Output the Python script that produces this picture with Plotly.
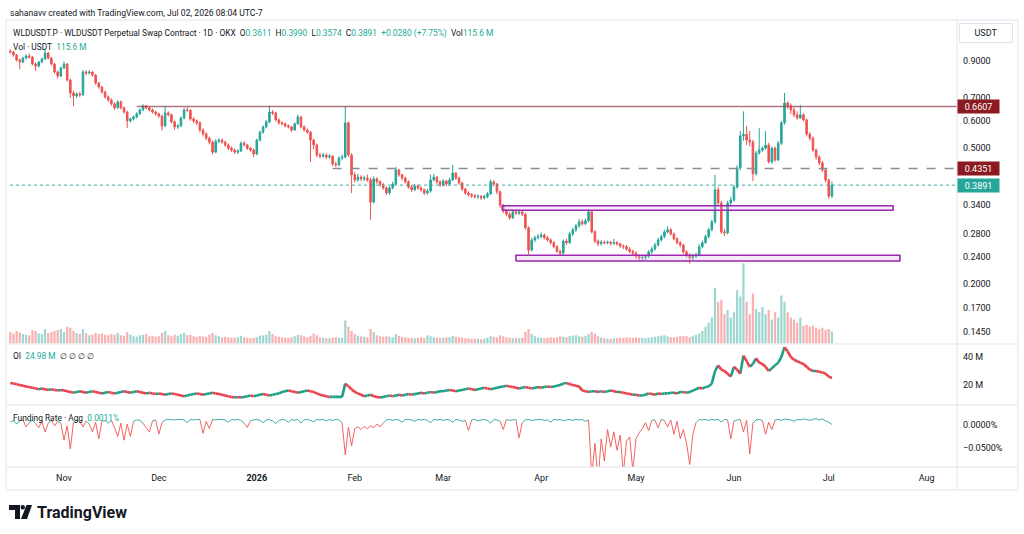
import math
import pandas as pd
import plotly.graph_objects as go

# ---------------- data ----------------
START_DATE = "2025-10-15"
FIRST_OPEN = 0.960

CLOSE = [
    0.954, 0.935, 0.904, 0.892, 0.916, 0.929, 0.922, 0.880, 0.868, 0.892,
    0.910, 0.948, 0.916, 0.880, 0.834, 0.812, 0.857, 0.880, 0.790, 0.724,
    0.710, 0.719, 0.715, 0.834, 0.828, 0.834, 0.817, 0.774, 0.754, 0.729,
    0.705, 0.691, 0.673, 0.655, 0.682, 0.655, 0.637, 0.600, 0.608, 0.616,
    0.629, 0.646, 0.664, 0.655, 0.646, 0.637, 0.629, 0.620, 0.580, 0.633,
    0.625, 0.596, 0.576, 0.580, 0.612, 0.646, 0.644, 0.608, 0.600, 0.592,
    0.564, 0.549, 0.534, 0.520, 0.486, 0.523, 0.527, 0.520, 0.510, 0.499,
    0.493, 0.486, 0.490, 0.516, 0.510, 0.499, 0.493, 0.480, 0.527, 0.556,
    0.576, 0.596, 0.637, 0.633, 0.604, 0.592, 0.588, 0.580, 0.576, 0.564,
    0.588, 0.616, 0.576, 0.564, 0.556, 0.527, 0.510, 0.477, 0.473, 0.477,
    0.470, 0.473, 0.449, 0.446, 0.467, 0.470, 0.592, 0.477, 0.417, 0.403,
    0.411, 0.406, 0.408, 0.403, 0.347, 0.406, 0.398, 0.390, 0.382, 0.369,
    0.382, 0.392, 0.431, 0.417, 0.408, 0.398, 0.384, 0.377, 0.387, 0.382,
    0.377, 0.369, 0.374, 0.403, 0.411, 0.398, 0.390, 0.400, 0.392, 0.403,
    0.422, 0.408, 0.395, 0.379, 0.369, 0.365, 0.362, 0.360, 0.361, 0.357,
    0.360, 0.367, 0.398, 0.392, 0.372, 0.340, 0.327, 0.320, 0.312, 0.325,
    0.322, 0.325, 0.320, 0.292, 0.251, 0.269, 0.273, 0.275, 0.278, 0.273,
    0.269, 0.264, 0.257, 0.249, 0.246, 0.267, 0.264, 0.280, 0.288, 0.296,
    0.304, 0.300, 0.306, 0.325, 0.284, 0.267, 0.262, 0.265, 0.264, 0.265,
    0.263, 0.264, 0.262, 0.258, 0.257, 0.253, 0.249, 0.246, 0.241, 0.238,
    0.239, 0.241, 0.248, 0.253, 0.260, 0.269, 0.275, 0.284, 0.288, 0.280,
    0.271, 0.264, 0.260, 0.248, 0.243, 0.238, 0.241, 0.243, 0.257, 0.264,
    0.275, 0.288, 0.304, 0.377, 0.345, 0.284, 0.282, 0.345, 0.352, 0.384,
    0.437, 0.542, 0.548, 0.527, 0.520, 0.420, 0.483, 0.493, 0.499, 0.510,
    0.455, 0.499, 0.461, 0.516, 0.592, 0.677, 0.664, 0.646, 0.625, 0.612,
    0.625, 0.604, 0.549, 0.534, 0.493, 0.470, 0.452, 0.431, 0.403, 0.3611,
    0.3891,
]

HIGH = [
    0.972, 0.962, 0.942, 0.915, 0.925, 0.940, 0.945, 0.930, 0.890, 0.900,
    0.920, 0.975, 0.955, 0.922, 0.888, 0.842, 0.866, 0.895, 0.885, 0.798,
    0.735, 0.728, 0.730, 0.845, 0.845, 0.845, 0.840, 0.822, 0.780, 0.760,
    0.736, 0.712, 0.698, 0.680, 0.690, 0.688, 0.662, 0.642, 0.614, 0.622,
    0.636, 0.652, 0.670, 0.668, 0.660, 0.652, 0.642, 0.634, 0.625, 0.662,
    0.640, 0.630, 0.602, 0.588, 0.618, 0.655, 0.658, 0.650, 0.615, 0.606,
    0.598, 0.570, 0.556, 0.540, 0.526, 0.530, 0.534, 0.532, 0.525, 0.515,
    0.505, 0.498, 0.496, 0.522, 0.524, 0.514, 0.504, 0.498, 0.532, 0.562,
    0.582, 0.604, 0.664, 0.645, 0.638, 0.610, 0.598, 0.594, 0.586, 0.580,
    0.594, 0.625, 0.620, 0.582, 0.570, 0.560, 0.532, 0.515, 0.484, 0.484,
    0.482, 0.480, 0.476, 0.455, 0.472, 0.478, 0.662, 0.598, 0.482, 0.425,
    0.420, 0.416, 0.415, 0.418, 0.410, 0.412, 0.410, 0.402, 0.395, 0.386,
    0.386, 0.398, 0.440, 0.434, 0.420, 0.412, 0.402, 0.390, 0.392, 0.391,
    0.386, 0.380, 0.380, 0.418, 0.420, 0.414, 0.402, 0.406, 0.404, 0.410,
    0.446, 0.425, 0.412, 0.398, 0.382, 0.373, 0.369, 0.367, 0.366, 0.364,
    0.365, 0.372, 0.404, 0.402, 0.395, 0.375, 0.343, 0.331, 0.324, 0.330,
    0.330, 0.330, 0.328, 0.323, 0.295, 0.273, 0.277, 0.280, 0.283, 0.281,
    0.276, 0.272, 0.267, 0.260, 0.252, 0.270, 0.271, 0.284, 0.292, 0.300,
    0.310, 0.309, 0.311, 0.330, 0.329, 0.287, 0.270, 0.269, 0.268, 0.268,
    0.267, 0.271, 0.267, 0.264, 0.261, 0.260, 0.256, 0.252, 0.249, 0.244,
    0.243, 0.244, 0.251, 0.257, 0.264, 0.273, 0.279, 0.288, 0.295, 0.291,
    0.283, 0.274, 0.267, 0.262, 0.251, 0.246, 0.245, 0.247, 0.261, 0.268,
    0.279, 0.292, 0.308, 0.417, 0.385, 0.350, 0.290, 0.350, 0.360, 0.390,
    0.445, 0.560, 0.640, 0.580, 0.560, 0.528, 0.490, 0.571, 0.505, 0.560,
    0.518, 0.505, 0.505, 0.524, 0.600, 0.724, 0.685, 0.675, 0.658, 0.640,
    0.668, 0.632, 0.610, 0.556, 0.540, 0.498, 0.476, 0.458, 0.436, 0.406,
    0.3990,
]

LOW = [
    0.945, 0.925, 0.895, 0.850, 0.885, 0.908, 0.912, 0.872, 0.840, 0.860,
    0.885, 0.905, 0.908, 0.872, 0.825, 0.798, 0.805, 0.850, 0.782, 0.700,
    0.662, 0.700, 0.705, 0.710, 0.815, 0.820, 0.808, 0.765, 0.745, 0.720,
    0.696, 0.682, 0.665, 0.646, 0.650, 0.648, 0.630, 0.572, 0.593, 0.602,
    0.610, 0.624, 0.640, 0.648, 0.640, 0.630, 0.622, 0.612, 0.562, 0.576,
    0.618, 0.590, 0.565, 0.568, 0.575, 0.606, 0.638, 0.600, 0.590, 0.584,
    0.556, 0.540, 0.526, 0.512, 0.478, 0.482, 0.516, 0.514, 0.503, 0.493,
    0.487, 0.480, 0.480, 0.486, 0.505, 0.493, 0.487, 0.470, 0.476, 0.522,
    0.550, 0.570, 0.590, 0.624, 0.598, 0.585, 0.582, 0.574, 0.570, 0.556,
    0.560, 0.584, 0.570, 0.558, 0.550, 0.455, 0.495, 0.470, 0.466, 0.468,
    0.464, 0.465, 0.442, 0.440, 0.442, 0.460, 0.466, 0.470, 0.369, 0.396,
    0.398, 0.400, 0.400, 0.398, 0.308, 0.344, 0.393, 0.385, 0.377, 0.364,
    0.365, 0.378, 0.390, 0.412, 0.402, 0.393, 0.380, 0.372, 0.374, 0.377,
    0.372, 0.364, 0.365, 0.370, 0.400, 0.393, 0.384, 0.386, 0.386, 0.388,
    0.400, 0.403, 0.390, 0.374, 0.364, 0.360, 0.357, 0.355, 0.354, 0.352,
    0.353, 0.356, 0.364, 0.386, 0.366, 0.334, 0.322, 0.316, 0.308, 0.310,
    0.318, 0.318, 0.316, 0.288, 0.244, 0.249, 0.265, 0.270, 0.272, 0.270,
    0.266, 0.261, 0.254, 0.246, 0.242, 0.244, 0.260, 0.262, 0.276, 0.284,
    0.292, 0.296, 0.297, 0.303, 0.281, 0.263, 0.258, 0.259, 0.261, 0.261,
    0.259, 0.260, 0.259, 0.255, 0.253, 0.250, 0.246, 0.243, 0.237, 0.234,
    0.234, 0.235, 0.238, 0.245, 0.250, 0.257, 0.266, 0.272, 0.281, 0.277,
    0.268, 0.261, 0.256, 0.245, 0.239, 0.229, 0.235, 0.238, 0.241, 0.254,
    0.262, 0.272, 0.285, 0.300, 0.340, 0.280, 0.276, 0.279, 0.340, 0.348,
    0.380, 0.430, 0.525, 0.510, 0.505, 0.400, 0.415, 0.478, 0.487, 0.495,
    0.450, 0.450, 0.456, 0.458, 0.510, 0.585, 0.650, 0.628, 0.615, 0.605,
    0.608, 0.598, 0.540, 0.525, 0.487, 0.462, 0.445, 0.425, 0.396, 0.355,
    0.3574,
]

# daily volume, millions of USDT
VOLUME_M = [
    # Oct
    110, 95, 120, 105, 90, 85, 80, 130, 120, 95, 90, 140, 100, 110, 120, 130, 140,
    # Nov
    110, 160, 150, 120, 100, 90, 140, 100, 80, 85, 100, 90, 95, 85, 80,
    90, 85, 100, 80, 75, 110, 85, 70, 65, 80, 85, 90, 70, 75, 65,
    # Dec
    70, 100, 120, 80, 70, 85, 75, 90, 100, 80, 85, 70, 65, 75, 70,
    65, 85, 100, 80, 70, 60, 65, 60, 55, 55, 60, 75, 60, 55, 50, 55,
    # Jan
    60, 75, 80, 85, 120, 90, 70, 65, 60, 55, 55, 60, 70, 85, 80,
    70, 60, 75, 95, 80, 60, 55, 50, 50, 55, 60, 55, 55, 220, 160, 120,
    # Feb
    90, 75, 70, 65, 60, 140, 110, 80, 70, 65, 70, 65, 60, 90,
    75, 65, 60, 55, 55, 50, 55, 60, 55, 80, 70, 60, 55, 55,
    # Mar
    55, 60, 60, 75, 65, 60, 55, 50, 50, 45, 45, 45, 40, 45, 55,
    75, 65, 60, 80, 70, 60, 55, 50, 55, 50, 55, 110, 140, 90, 70, 60,
    # Apr
    55, 50, 55, 60, 55, 60, 70, 65, 60, 70, 75, 80, 70, 65, 75,
    90, 110, 95, 70, 55, 50, 45, 45, 50, 50, 55, 55, 60, 55, 55,
    # May
    60, 55, 55, 50, 55, 60, 65, 70, 75, 80, 70, 60, 60, 65, 70,
    75, 70, 60, 75, 85, 95, 120, 160, 200, 250, 530, 400, 420, 280, 320, 250,
    # Jun
    300, 510, 450, 770, 400, 280, 480, 330, 300, 350, 280, 320, 230, 300, 250,
    460, 400, 300, 250, 230, 200, 250, 170, 180, 160, 170, 150, 140, 150, 130,
    # Jul
    140, 115.6,
]

# open interest, millions
OI_M = [
    # Oct
    21.5, 21, 20.5, 20, 19.5, 19, 18.5, 18, 17.5, 17, 17.5, 17, 16.5, 17, 16.5, 16, 16.5,
    # Nov
    16, 15.5, 15, 14.5, 15, 15.5, 15, 14.5, 15, 15.5, 15, 14.5, 14, 14.5, 15,
    14.5, 14, 14.5, 15, 15.5, 15, 14.5, 15, 15.5, 15, 14.5, 14, 14.5, 14, 13.5,
    # Dec
    14, 13.5, 13, 13.5, 14, 13.5, 13, 12.5, 12, 12.5, 13, 13.5, 14, 13.5, 13,
    13.5, 14, 14.5, 14, 13.5, 13, 12.5, 12, 11.5, 11, 11.5, 11, 11.5, 12, 12.5, 12,
    # Jan
    12.5, 13, 13.5, 13, 12.5, 13, 13.5, 14, 15, 15.5, 16, 15.5, 15, 14.5, 15,
    15.5, 16, 15.5, 15, 14, 13, 12.5, 12, 11.5, 11.5, 11.5, 11.5, 11.5, 21, 19, 17,
    # Feb
    15, 14, 13, 12, 12.5, 13, 12, 11.5, 11, 11.5, 12, 12.5, 12, 12.5,
    13, 12.5, 13, 13.5, 13, 13.5, 14, 14.5, 14, 14.5, 15, 14.5, 15, 15.5,
    # Mar
    15.5, 16, 16.5, 16, 15.5, 16, 16.5, 17, 17.5, 17, 16.5, 17, 17.5, 18, 17.5,
    17, 17.5, 18, 18.5, 19, 19.5, 19, 18.5, 18, 17.5, 18, 18.5, 18, 17.5, 18, 18.5,
    # Apr
    18, 18.5, 19, 18.5, 19, 19.5, 20, 21, 21.5, 20.5, 20, 19.5, 19, 16, 15.5,
    15, 15.5, 15.5, 15, 15.5, 15, 15.5, 16, 15.5, 15, 15, 14.5, 14, 13.5, 13,
    # May
    13, 12.5, 12.5, 13, 14, 13.5, 13, 14, 13.5, 14, 14, 14.5, 14.5, 14, 15,
    15, 14.5, 15, 16, 17, 18, 17.5, 18.5, 19, 21, 30, 34, 31, 30, 28, 26,
    # Jun
    33, 31, 28, 41, 37, 33, 35, 39, 36, 35, 33, 30, 32, 34, 36,
    40, 47, 44, 40, 38, 37, 36, 35, 33, 31, 30, 30, 29.5, 29, 28,
    # Jul
    26, 24.98,
]

# aggregated funding rate, percent
FUNDING_PCT = [
    # Oct
    0.006, 0.010, 0.002, 0.009, 0.011, -0.004, 0.005, 0.010, 0.003, -0.006,
    0.008, -0.015, 0.004, 0.010, -0.002, 0.008, 0.004,
    # Nov
    -0.033, -0.002, -0.052, 0.006, 0.010, 0.008, -0.004, 0.009, 0.002, -0.015,
    0.006, -0.030, 0.008, 0.010, 0.004, 0.010, -0.006, -0.025, 0.004, -0.033,
    0.002, -0.025, 0.008, 0.011, 0.010, 0.004, -0.006, -0.015, 0.009, 0.011,
    # Dec
    -0.020, 0.005, 0.011, 0.012, 0.012, 0.011, 0.012, 0.012, 0.011, 0.005,
    0.012, 0.011, 0.012, 0.012, -0.018, 0.008, -0.008, 0.012, 0.011, 0.012,
    0.012, 0.011, 0.006, 0.012, 0.011, 0.012, 0.010, 0.004, -0.005, 0.009, 0.011,
    # Jan
    0.012, 0.010, 0.005, 0.011, 0.012, 0.009, 0.003, 0.010, 0.012, 0.011,
    0.006, 0.012, 0.010, 0.012, 0.004, 0.011, 0.012, 0.010, 0.007, 0.012,
    0.011, 0.012, 0.009, 0.012, 0.010, 0.012, 0.011, 0.005, -0.065, -0.005, -0.045,
    # Feb
    -0.008, -0.004, -0.010, -0.003, -0.008, -0.002, -0.006, 0.002, -0.004, 0.004,
    0.011, 0.012, 0.010, 0.012, 0.011, 0.006, 0.012, 0.012, 0.011, 0.008,
    0.012, 0.011, 0.012, 0.010, 0.005, 0.012, 0.011, 0.012,
    # Mar
    0.010, 0.012, 0.011, 0.006, 0.012, 0.011, 0.008, 0.010, -0.012, 0.011,
    0.012, 0.009, 0.011, 0.012, 0.010, 0.004, 0.012, 0.011, 0.008, -0.010,
    0.012, 0.010, 0.011, 0.012, -0.028, 0.005, 0.011, 0.012, 0.010, 0.011, 0.012,
    # Apr
    0.012, 0.010, 0.011, 0.006, 0.012, 0.011, 0.012, 0.009, 0.011, 0.012,
    0.010, 0.012, 0.011, 0.012, 0.008, 0.011, -0.110, -0.040, -0.120, -0.030,
    -0.078, -0.010, -0.048, -0.015, -0.055, -0.022, -0.105, -0.035, -0.026, -0.100,
    # May
    -0.030, -0.017, -0.008, 0.005, -0.012, 0.010, 0.011, -0.006, 0.012, 0.010,
    -0.004, 0.011, -0.020, 0.008, -0.030, -0.010, -0.040, -0.086, -0.020, 0.005,
    0.012, 0.011, 0.012, 0.010, 0.012, 0.011, 0.012, 0.006, 0.012, 0.011, -0.030,
    # Jun
    0.008, 0.011, 0.012, -0.015, 0.010, -0.063, 0.004, 0.011, 0.012, 0.010,
    -0.020, 0.006, -0.010, 0.011, 0.012, 0.010, 0.013, 0.012, 0.011, 0.008,
    0.012, 0.011, 0.013, 0.012, 0.010, 0.012, 0.014, 0.011, 0.013, 0.009,
    # Jul
    0.006, 0.0011,
]

RESISTANCE = 0.6607
RESISTANCE_FROM = "2025-11-24"
MID_LEVEL = 0.4351
MID_FROM = "2026-01-25"
ZONE_UPPER = [0.3284, 0.3387]
ZONE_UPPER_DATES = ["2026-03-19 16:00", "2026-07-21 08:00"]
ZONE_LOWER = [0.2334, 0.2425]
ZONE_LOWER_DATES = ["2026-03-24 00:00", "2026-07-23 12:00"]

PRICE_TICKS = [0.9, 0.7, 0.6, 0.5, 0.34, 0.28, 0.24, 0.2, 0.17, 0.145]
OI_TICKS = [20, 40]
FUND_TICKS = [0.0, -0.05]
FUND_TICK_TEXT = ["0.0000%", "\u22120.0500%"]
MONTH_TICKS = ["2025-11-01", "2025-12-01", "2026-01-01", "2026-02-01", "2026-03-01",
               "2026-04-01", "2026-05-01", "2026-06-01", "2026-07-01", "2026-08-01"]
MONTH_LABELS = ["Nov", "Dec", "<b>2026</b>", "Feb", "Mar", "Apr", "May", "Jun", "Jul", "Aug"]
X_RANGE = ["2025-10-13 23:00", "2026-08-10 14:00"]

N = len(CLOSE)
assert len(HIGH) == N and len(LOW) == N, (len(HIGH), len(LOW), N)
assert len(VOLUME_M) == N, len(VOLUME_M)
assert len(OI_M) == N, len(OI_M)
assert len(FUNDING_PCT) == N, len(FUNDING_PCT)

dates = list(pd.date_range(START_DATE, periods=N, freq="D"))
OPEN = [FIRST_OPEN] + CLOSE[:-1]

# ---------------- style ----------------
UP = "#26a69a"
DOWN = "#ef5350"
UP_VOL = "rgba(38,166,154,0.45)"
DOWN_VOL = "rgba(239,83,80,0.45)"
TXT = "#131722"
GRID = "#e0e3eb"
FONT = "Roboto, Arial, sans-serif"

# plot area in page pixels
PL, PR, PT, PB = 7, 957, 20, 467


def PX(px):
    return (px - PL) / (PR - PL)


def PY(py):
    return (PB - py) / (PB - PT)


fig = go.Figure()

# volume (base axis of the main pane)
vol_colors = [UP_VOL if c >= o else DOWN_VOL for o, c in zip(OPEN, CLOSE)]
fig.add_trace(go.Bar(x=dates, y=[v * 1e6 for v in VOLUME_M], marker=dict(color=vol_colors, line=dict(width=0)),
                     xaxis="x", yaxis="y", hoverinfo="skip", showlegend=False))

# horizontal levels
x_end = pd.Timestamp(X_RANGE[1]) + pd.Timedelta(days=2)
fig.add_trace(go.Scatter(x=[dates[0] - pd.Timedelta(days=2), x_end],
                         y=[CLOSE[-1], CLOSE[-1]], mode="lines",
                         line=dict(color="rgba(38,166,154,0.9)", width=1, dash="dot"),
                         xaxis="x", yaxis="y2", hoverinfo="skip", showlegend=False))
fig.add_trace(go.Scatter(x=[RESISTANCE_FROM, x_end],
                         y=[RESISTANCE, RESISTANCE], mode="lines",
                         line=dict(color="rgba(150,70,80,0.75)", width=1.5),
                         xaxis="x", yaxis="y2", hoverinfo="skip", showlegend=False))
fig.add_trace(go.Scatter(x=[MID_FROM, x_end],
                         y=[MID_LEVEL, MID_LEVEL], mode="lines",
                         line=dict(color="#8a8d96", width=1.5, dash="dash"),
                         xaxis="x", yaxis="y2", hoverinfo="skip", showlegend=False))

# candles
fig.add_trace(go.Candlestick(x=dates, open=OPEN, high=HIGH, low=LOW, close=CLOSE,
                             increasing=dict(line=dict(color=UP, width=1), fillcolor=UP),
                             decreasing=dict(line=dict(color=DOWN, width=1), fillcolor=DOWN),
                             whiskerwidth=0, xaxis="x", yaxis="y2", hoverinfo="skip", showlegend=False))

# zones
for (lo, hi), (d0, d1) in [(ZONE_UPPER, ZONE_UPPER_DATES), (ZONE_LOWER, ZONE_LOWER_DATES)]:
    fig.add_trace(go.Scatter(x=[d0, d1, d1, d0, d0], y=[lo, lo, hi, hi, lo], mode="lines",
                             fill="toself", fillcolor="rgba(225,190,231,0.30)",
                             line=dict(color="#9c27b0", width=1.6),
                             xaxis="x", yaxis="y2", hoverinfo="skip", showlegend=False))


def segments(values, up):
    xs, ys = [], []
    for i in range(len(values) - 1):
        rising = values[i + 1] >= values[i]
        if rising == up:
            xs += [dates[i], dates[i + 1], None]
            ys += [values[i], values[i + 1], None]
    return xs, ys


# open interest
for up, col in [(True, "#1f9e86"), (False, "#e8434d")]:
    xs, ys = segments(OI_M, up)
    fig.add_trace(go.Scatter(x=xs, y=ys, mode="lines", line=dict(color=col, width=2.6),
                             xaxis="x2", yaxis="y3", hoverinfo="skip", showlegend=False))

# funding rate (colored by sign)
fx_pos, fy_pos, fx_neg, fy_neg = [], [], [], []
for i in range(N - 1):
    a, b = FUNDING_PCT[i], FUNDING_PCT[i + 1]
    if a >= 0 and b >= 0:
        fx_pos += [dates[i], dates[i + 1], None]
        fy_pos += [a, b, None]
    else:
        fx_neg += [dates[i], dates[i + 1], None]
        fy_neg += [a, b, None]
fig.add_trace(go.Scatter(x=fx_neg, y=fy_neg, mode="lines", line=dict(color=DOWN, width=0.9),
                         xaxis="x3", yaxis="y4", hoverinfo="skip", showlegend=False))
fig.add_trace(go.Scatter(x=fx_pos, y=fy_pos, mode="lines", line=dict(color=UP, width=0.9),
                         xaxis="x3", yaxis="y4", hoverinfo="skip", showlegend=False))

# ---------------- layout ----------------
main_dom = [PY(343.5), 1.0]
oi_dom = [PY(404.5), PY(344.5)]
fund_dom = [0.0, PY(405.5)]

p_top = 0.9 * math.exp((60.7 - PT) / 148.4)
p_bot = 0.9 * math.exp((60.7 - 343.5) / 148.4)
vol_max = 3.1e9

oi_per_px = 20 / 28.0
oi_range = [20 - (404.5 - 385) * oi_per_px, 20 + (385 - 344.5) * oi_per_px]
f_per_px = 0.05 / 23.0
fund_range = [0 - (467 - 425) * f_per_px, 0 + (425 - 405.5) * f_per_px]

tickfont = dict(family=FONT, size=9, color=TXT)
axis_common = dict(showgrid=False, zeroline=False, showline=False, fixedrange=True)

fig.update_layout(
    width=1024, height=534,
    margin=dict(l=PL, r=1024 - PR, t=PT, b=534 - PB, pad=0),
    paper_bgcolor="white", plot_bgcolor="white",
    font=dict(family=FONT, color=TXT),
    bargap=0.3,
    showlegend=False,
    xaxis=dict(domain=[0, 1], anchor="y", type="date", range=X_RANGE, showticklabels=False,
               rangeslider=dict(visible=False), **axis_common),
    xaxis2=dict(domain=[0, 1], anchor="y3", type="date", matches="x", showticklabels=False, **axis_common),
    xaxis3=dict(domain=[0, 1], anchor="y4", type="date", matches="x", tickvals=MONTH_TICKS,
                ticktext=MONTH_LABELS, ticks="", tickfont=tickfont, ticklabelstandoff=4, **axis_common),
    yaxis=dict(domain=main_dom, anchor="x", range=[0, vol_max], visible=False, **axis_common),
    yaxis2=dict(domain=main_dom, anchor="x", overlaying="y", side="right", type="log",
                range=[math.log10(p_bot), math.log10(p_top)], tickvals=PRICE_TICKS,
                ticktext=[f"{v:.4f}" for v in PRICE_TICKS], ticks="", tickfont=tickfont,
                ticklabelstandoff=5, **axis_common),
    yaxis3=dict(domain=oi_dom, anchor="x2", side="right", range=oi_range, tickvals=OI_TICKS,
                ticktext=[f"{v} M" for v in OI_TICKS], ticks="", tickfont=tickfont,
                ticklabelstandoff=5, **axis_common),
    yaxis4=dict(domain=fund_dom, anchor="x3", side="right", range=fund_range, tickvals=FUND_TICKS,
                ticktext=FUND_TICK_TEXT, ticks="", tickfont=tickfont, ticklabelstandoff=5, **axis_common),
)

shapes = []
shapes.append(dict(type="rect", xref="paper", yref="paper", x0=PX(6), x1=PX(1018), y0=PY(490), y1=PY(20),
                   line=dict(color=GRID, width=1), fillcolor="rgba(0,0,0,0)", layer="above"))
shapes.append(dict(type="line", xref="paper", yref="paper", x0=1, x1=1, y0=PY(490), y1=PY(20),
                   line=dict(color=GRID, width=1), layer="above"))
for py in (344, 405, 467):
    shapes.append(dict(type="line", xref="paper", yref="paper", x0=PX(6), x1=PX(1018), y0=PY(py), y1=PY(py),
                       line=dict(color=GRID, width=1), layer="above"))
# TradingView logo mark
shapes.append(dict(type="rect", xref="paper", yref="paper", x0=PX(9), x1=PX(20), y0=PY(510), y1=PY(505),
                   fillcolor="#131722", line=dict(width=0)))
shapes.append(dict(type="rect", xref="paper", yref="paper", x0=PX(15), x1=PX(20), y0=PY(519), y1=PY(505),
                   fillcolor="#131722", line=dict(width=0)))
shapes.append(dict(type="circle", xref="paper", yref="paper", x0=PX(20.5), x1=PX(25), y0=PY(509.5), y1=PY(505),
                   fillcolor="#131722", line=dict(width=0)))
shapes.append(dict(type="path", xref="paper", yref="paper",
                   path=f"M {PX(21)} {PY(519)} L {PX(27)} {PY(519)} L {PX(32)} {PY(505)} L {PX(26.5)} {PY(505)} Z",
                   fillcolor="#131722", line=dict(width=0)))
fig.update_layout(shapes=shapes)

teal_val = "#22ab94"


def span(txt, col=teal_val):
    return f"<span style='color:{col}'>{txt}</span>"


last_o, last_h, last_l, last_c = OPEN[-1], HIGH[-1], LOW[-1], CLOSE[-1]
chg = last_c - CLOSE[-2]
pct = chg / CLOSE[-2] * 100
sp = "\u00a0\u00a0"
legend1 = ("WLDUSDT.P · WLDUSDT Perpetual Swap Contract · 1D · OKX" + sp +
           "O" + span(f"{last_o:.4f}") + sp + "H" + span(f"{last_h:.4f}") + sp +
           "L" + span(f"{last_l:.4f}") + sp + "C" + span(f"{last_c:.4f}") + sp +
           span(f"{chg:+.4f} ({pct:+.2f}%)") + sp + "Vol" + span(f"{VOLUME_M[-1]:.1f}\u00a0M"))
legend2 = "Vol · USDT" + sp + span(f"{VOLUME_M[-1]:.1f}\u00a0M")
legend_oi = "OI" + sp + span(f"{OI_M[-1]:.2f}\u00a0M") + sp + "\u2205\u00a0\u2205\u00a0\u2205\u00a0\u2205"
legend_f = "Funding Rate · Agg" + sp + span(f"{FUNDING_PCT[-1]:.4f}%")

ann = []


def text_at(px, py, txt, size=9, **kw):
    d = dict(xref="paper", yref="paper", x=PX(px), y=PY(py), text=txt, showarrow=False,
             xanchor="left", yanchor="middle", font=dict(family=FONT, size=size, color=TXT))
    d.update(kw)
    ann.append(d)


text_at(8, 13, "sahanavv created with TradingView.com, Jul 02, 2026 08:04 UTC-7", size=8.6)
text_at(11, 33, legend1, size=8.4)
text_at(11, 47, legend2, size=8.4)
text_at(11, 356, legend_oi, size=8.4)
text_at(11, 418, legend_f, size=8.4)
text_at(35, 512, "<b>TradingView</b>", size=16)
ann.append(dict(xref="paper", yref="paper", x=PX(986), y=PY(33), text="USDT", showarrow=False,
                xanchor="center", yanchor="middle", font=dict(family=FONT, size=9, color=TXT),
                bordercolor=GRID, borderwidth=1, width=50, height=16, bgcolor="white"))

for val, bg in [(RESISTANCE, "#8c1a22"), (MID_LEVEL, "#8c1a22"), (last_c, "#26a69a")]:
    ann.append(dict(xref="paper", yref="y2", x=1, y=math.log10(val), text=f"{val:.4f}", showarrow=False,
                    xanchor="left", yanchor="middle", xshift=0,
                    font=dict(family=FONT, size=9, color="white"), bgcolor=bg,
                    width=39, height=11, borderpad=1, align="center"))

fig.update_layout(annotations=ann)

fig.write_html("out.html")
